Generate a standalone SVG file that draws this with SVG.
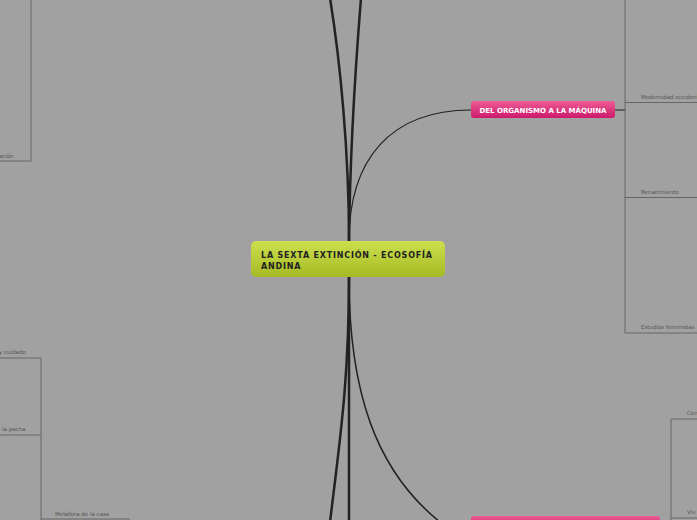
<svg xmlns="http://www.w3.org/2000/svg" width="697" height="520" viewBox="0 0 697 520">
<defs>
<linearGradient id="gY" x1="0" y1="0" x2="0" y2="1">
<stop offset="0" stop-color="#cddf4e"/>
<stop offset="1" stop-color="#a5ba24"/>
</linearGradient>
<linearGradient id="gP" x1="0" y1="0" x2="0" y2="1">
<stop offset="0" stop-color="#ee5b94"/>
<stop offset="1" stop-color="#cc1a6c"/>
</linearGradient>
<style>
.c{fill:none;stroke:#222;stroke-linecap:round}
.t{fill:none;stroke:#666;stroke-width:1}
.lb{font-family:"DejaVu Sans",sans-serif;font-size:5.5px;fill:#555}
.main{font-family:"DejaVu Sans",sans-serif;font-size:8px;font-weight:bold;fill:#222;letter-spacing:0.8px}
.pk{font-family:"DejaVu Sans",sans-serif;font-size:7px;font-weight:bold;fill:#fff}
</style>
</defs>
<rect width="697" height="520" fill="#a1a1a1"/>
<g id="connectors">
<path class="c" stroke-width="2.5" d="M349,241 C349,150 340,60 330,-2"/>
<path class="c" stroke-width="2.5" d="M349,241 C350,150 356,60 361,-2"/>
<path class="c" stroke-width="1.2" d="M349,241 C349,160 390,110 471,110"/>
<path class="c" stroke-width="2.5" d="M349,277 C349,380 340,440 330,522"/>
<path class="c" stroke-width="2.5" d="M349,277 L349,522"/>
<path class="c" stroke-width="1.5" d="M349,277 C349,390 375,470 440,522"/>
<path class="c" stroke-width="1.2" d="M615,110 L625,110"/>
<path class="t" d="M625,0 L625,333 L697,333 M625,102.5 L697,102.5 M625,197.5 L697,197.5"/>
<path class="t" d="M31,0 L31,161 L0,161"/>
<path class="t" d="M0,358 L41,358 L41,520 M0,435 L41,435 M41,519 L130,519"/>
<path class="t" d="M697,419 L671,419 L671,520 M671,518 L697,518"/>
</g>
<g id="n-root">
<rect x="251" y="241" width="194" height="36" rx="5" fill="url(#gY)"/>
<text class="main" x="261" y="258">LA SEXTA EXTINCIÓN - ECOSOFÍA</text>
<text class="main" x="261" y="269">ANDINA</text>
</g>
<g id="n-organismo">
<rect x="471" y="101" width="144" height="17" rx="3" fill="url(#gP)"/>
<text class="pk" x="543" y="112.5" text-anchor="middle">DEL ORGANISMO A LA MÁQUINA</text>
</g>
<g id="n-pink-bottom">
<rect x="471" y="516" width="189" height="12" rx="3" fill="url(#gP)"/>
</g>
<g id="n-modernidad"><text class="lb" x="641" y="99">Modernidad occidental</text></g>
<g id="n-renacimiento"><text class="lb" x="641" y="194">Renacimiento</text></g>
<g id="n-feministas"><text class="lb" x="641" y="329">Estudios feministas</text></g>
<g id="n-left-top"><text class="lb" x="-1" y="158">ación</text></g>
<g id="n-cuidado"><text class="lb" x="-1" y="354">y cuidado</text></g>
<g id="n-pacha"><text class="lb" x="2" y="431">la pacha</text></g>
<g id="n-casa"><text class="lb" x="55" y="516">Metáfora de la casa</text></g>
<g id="n-co"><text class="lb" x="687" y="415">Con</text></g>
<g id="n-viv"><text class="lb" x="687" y="514">Viv</text></g>
</svg>
